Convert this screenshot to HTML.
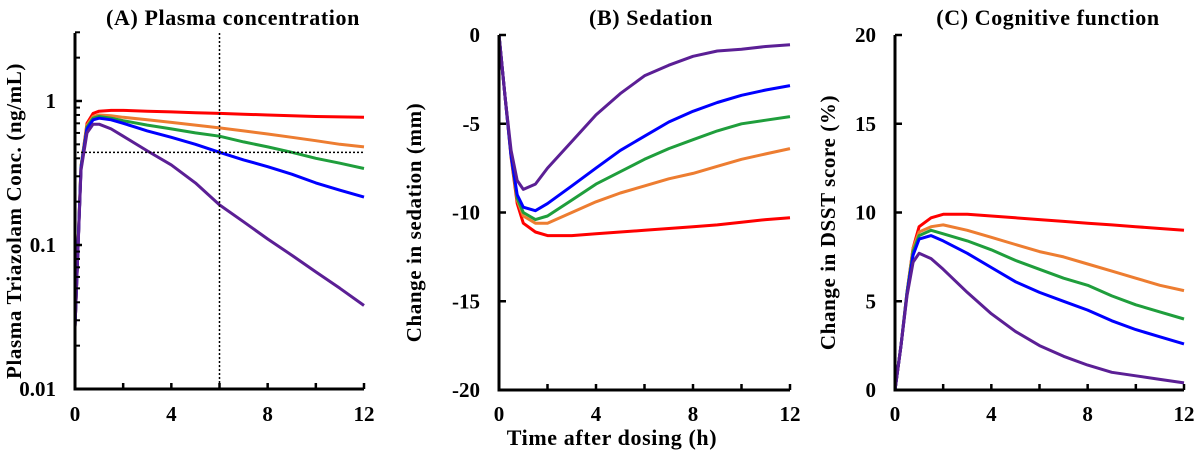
<!DOCTYPE html>
<html><head><meta charset="utf-8"><style>
html,body{margin:0;padding:0;background:#fff;}
svg{display:block;font-family:"Liberation Serif",serif;font-weight:bold;}
</style></head><body>
<svg id="chart" width="1200" height="456" viewBox="0 0 1200 456" xmlns="http://www.w3.org/2000/svg"></svg>
<script>
const times=[0,0.25,0.5,0.75,1,1.5,2,3,4,5,6,7,8,9,10,11,12];
const seriesNames=["red","orange","green","blue","purple"];
const seriesColors=["#ff0000","#ed7d31","#1f9e3c","#0000ff","#5b1f95"];
// Panel A: plasma concentration (ng/mL)
const concRed=[0.027,0.35,0.7,0.82,0.85,0.86,0.86,0.85,0.84,0.83,0.82,0.81,0.80,0.79,0.78,0.775,0.77];
const concOrange=[0.027,0.35,0.68,0.78,0.8,0.79,0.77,0.74,0.71,0.68,0.65,0.62,0.59,0.56,0.53,0.50,0.48];
const concGreen=[0.027,0.35,0.66,0.76,0.78,0.76,0.73,0.68,0.64,0.60,0.57,0.52,0.48,0.44,0.40,0.37,0.34];
const concBlue=[0.027,0.34,0.64,0.74,0.76,0.74,0.70,0.62,0.56,0.50,0.44,0.39,0.35,0.31,0.27,0.24,0.215];
const concPurple=[0.027,0.33,0.6,0.69,0.69,0.64,0.57,0.45,0.36,0.27,0.19,0.145,0.11,0.085,0.065,0.05,0.038];
// Panel B: sedation (mm)
const sedRed=[0,-3.5,-6.9,-9.5,-10.6,-11.1,-11.3,-11.3,-11.2,-11.1,-11.0,-10.9,-10.8,-10.7,-10.55,-10.4,-10.3];
const sedOrange=[0,-3.5,-6.8,-9.3,-10.2,-10.6,-10.6,-10,-9.4,-8.9,-8.5,-8.1,-7.8,-7.4,-7.0,-6.7,-6.4];
const sedGreen=[0,-3.5,-6.8,-9.2,-10,-10.4,-10.2,-9.3,-8.4,-7.7,-7,-6.4,-5.9,-5.4,-5,-4.8,-4.6];
const sedBlue=[0,-3.5,-6.8,-9,-9.7,-9.9,-9.5,-8.5,-7.5,-6.5,-5.7,-4.9,-4.3,-3.8,-3.4,-3.1,-2.85];
const sedPurple=[0,-3.5,-6.5,-8.2,-8.7,-8.4,-7.5,-6,-4.5,-3.3,-2.3,-1.7,-1.2,-0.9,-0.8,-0.65,-0.55];
// Panel C: DSST (%)
const cogRed=[0,2.5,5.5,8,9.2,9.7,9.9,9.9,9.8,9.7,9.6,9.5,9.4,9.3,9.2,9.1,9.0];
const cogOrange=[0,2.5,5.5,8,8.9,9.2,9.3,9,8.6,8.2,7.8,7.5,7.1,6.7,6.3,5.9,5.6];
const cogGreen=[0,2.5,5.5,7.8,8.7,9,8.8,8.4,7.9,7.3,6.8,6.3,5.9,5.3,4.8,4.4,4.0];
const cogBlue=[0,2.5,5.4,7.6,8.5,8.7,8.4,7.7,6.9,6.1,5.5,5,4.5,3.9,3.4,3.0,2.6];
const cogPurple=[0,2.5,5.3,7.2,7.7,7.4,6.8,5.5,4.3,3.3,2.5,1.9,1.4,1.0,0.8,0.6,0.4];
const xTickLabels=["0","4","8","12"];
const yTicksA=["0.01","0.1","1"];
const yTicksB=["0","-5","-10","-15","-20"];
const yTicksC=["0","5","10","15","20"];

const svg=document.getElementById('chart');
const NS="http://www.w3.org/2000/svg";
function mk(tag,attrs,parent){const e=document.createElementNS(NS,tag);for(const k in attrs)e.setAttribute(k,attrs[k]);(parent||svg).appendChild(e);return e;}
function txt(s,x,y,anchor,size,parent,ls){const t=mk('text',{x:x,y:y,'text-anchor':anchor,'font-size':size},parent);if(ls)t.setAttribute('letter-spacing',ls);t.textContent=s;return t;}

function panel(key,x0,x1,yTop,yBot,sx,sy,title,titleX,yLabels,yLabelVals,yTitle,yTitleX,series,minorTicks){
  const g=mk('g',{});
  
  
  const t=txt(title,titleX,25,'middle',22,g,'0.6');
  
  
  const yt=txt(yTitle,0,0,'middle',21,g,'0.6');
  yt.setAttribute('transform','translate('+yTitleX+','+((yTop+yBot)/2+10)+') rotate(-90)');
  
  
  series.forEach((vals,i)=>{
    let d='';
    vals.forEach((v,j)=>{d+=(j?'L':'M')+sx(times[j]).toFixed(1)+','+sy(v).toFixed(1);});
    const p=mk('path',{d:d,fill:'none',stroke:seriesColors[i],'stroke-width':3,'stroke-linejoin':'round'},g);
    
    
  });
  const ax=mk('path',{d:'M'+x0+','+yTop+'L'+x0+','+yBot+'L'+x1+','+yBot,fill:'none',stroke:'#000','stroke-width':3},g);
  
  
  for(let h=2;h<=12;h+=2){mk('line',{x1:sx(h),x2:sx(h),y1:yBot,y2:yBot-6,stroke:'#000','stroke-width':2.5},g);}
  xTickLabels.forEach(s=>{const l=txt(s,sx(+s),421,'middle',21,g);
    
    });
  yLabels.forEach((s,i)=>{const yy=sy(yLabelVals[i]);
    mk('line',{x1:x0,x2:x0+7,y1:yy,y2:yy,stroke:'#000','stroke-width':2.5},g);
    const l=txt(s,x0-19,yy+7,'end',21,g);
    
    });
  if(minorTicks)minorTicks.forEach(v=>{const yy=sy(v);mk('line',{x1:x0,x2:x0+5,y1:yy,y2:yy,stroke:'#000','stroke-width':2},g);});
  return g;
}
const axX=h=>75+h*(364-75)/12, ayY=v=>389-144*(Math.log10(v)+2);
const minorA=[];[0.01,0.1,1].forEach(b=>{for(let m=2;m<=9;m++){if(b*m<=3.1)minorA.push(b*m);}});
const gA=panel('a',75,364,33,389,axX,ayY,'(A)  Plasma concentration',233,yTicksA,yTicksA.map(Number),'Plasma Triazolam  Conc. (ng/mL)',21,
  [concRed,concOrange,concGreen,concBlue,concPurple],minorA);
const vl=mk('line',{x1:axX(6),x2:axX(6),y1:33,y2:387,stroke:'#000','stroke-width':1.5,'stroke-dasharray':'2,2'},gA);


const hl=mk('line',{x1:77,x2:364,y1:ayY(0.44),y2:ayY(0.44),stroke:'#000','stroke-width':1.5,'stroke-dasharray':'2,2'},gA);


const bxX=h=>499+h*(790-499)/12, byY=v=>35-v*(390-35)/20;
const gB=panel('b',499,790,35,390,bxX,byY,'(B) Sedation',651,yTicksB,yTicksB.map(Number),'Change in sedation (mm)',421,
  [sedRed,sedOrange,sedGreen,sedBlue,sedPurple],null);
const xt=txt('Time after dosing (h)',612,445,'middle',22,gB,'0.6');


const cxX=h=>895+h*(1184-895)/12, cyY=v=>390-v*(390-35)/20;
panel('c',895,1184,35,390,cxX,cyY,'(C) Cognitive function',1048,yTicksC,yTicksC.map(Number),'Change in DSST score (%)',835,
  [cogRed,cogOrange,cogGreen,cogBlue,cogPurple],null);
</script>
</body></html>
